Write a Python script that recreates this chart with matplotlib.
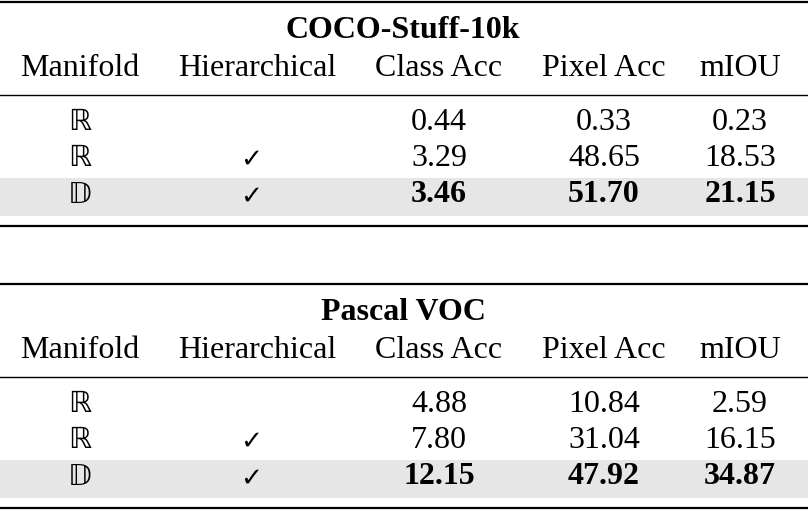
import matplotlib
matplotlib.use("Agg")
import matplotlib.pyplot as plt
from matplotlib.patches import Rectangle

W, H = 808, 512
titles = ["COCO-Stuff-10k", "Pascal VOC"]
headers = ["Manifold", "Hierarchical", "Class Acc", "Pixel Acc", "mIOU"]
manifolds = ["ℝ", "ℝ", "𝔻"]
hier = ["", "✓", "✓"]
coco_class = ["0.44", "3.29", "3.46"]
coco_pixel = ["0.33", "48.65", "51.70"]
coco_miou = ["0.23", "18.53", "21.15"]
voc_class = ["4.88", "7.80", "12.15"]
voc_pixel = ["10.84", "31.04", "47.92"]
voc_miou = ["2.59", "16.15", "34.87"]

fig = plt.figure(figsize=(W/100, H/100), dpi=100)
ax = fig.add_axes([0, 0, 1, 1])
ax.set_xlim(0, W); ax.set_ylim(H, 0); ax.axis('off')
xs = [80, 257, 439, 604, 740]
fs = 23
serif = 'Liberation Serif'

def table(y0, title, cls, pix, miou):
    ax.add_patch(Rectangle((0, y0+178), W, 38, color='#e6e6e6', lw=0, zorder=0))
    ax.plot([0, W], [y0+1.5, y0+1.5], color='black', lw=1.6)
    ax.plot([0, W], [y0+95, y0+95], color='black', lw=1.0)
    ax.plot([0, W], [y0+226, y0+226], color='black', lw=1.6)
    ax.text(403, y0+30, title, ha='center', va='center', fontsize=fs, fontweight='bold', family=serif)
    for x, h in zip(xs, headers):
        ax.text(x, y0+68, h, ha='center', va='center', fontsize=fs, family=serif)
    for i, yy in enumerate([122, 158, 195]):
        y = y0 + yy
        w = 'bold' if i == 2 else 'normal'
        ax.text(xs[0], y, manifolds[i], ha='center', va='center', fontsize=fs-2,
                family=['DejaVu Sans', 'DejaVu Serif'])
        ax.text(251, y + 2, hier[i], ha='center', va='center', fontsize=fs-4, family='DejaVu Sans')
        for x, v in zip(xs[2:], [cls[i], pix[i], miou[i]]):
            ax.text(x, y, v, ha='center', va='center', fontsize=fs, fontweight=w, family=serif)

table(0, titles[0], coco_class, coco_pixel, coco_miou)
table(282, titles[1], voc_class, voc_pixel, voc_miou)
fig.savefig("out.png", dpi=100)
